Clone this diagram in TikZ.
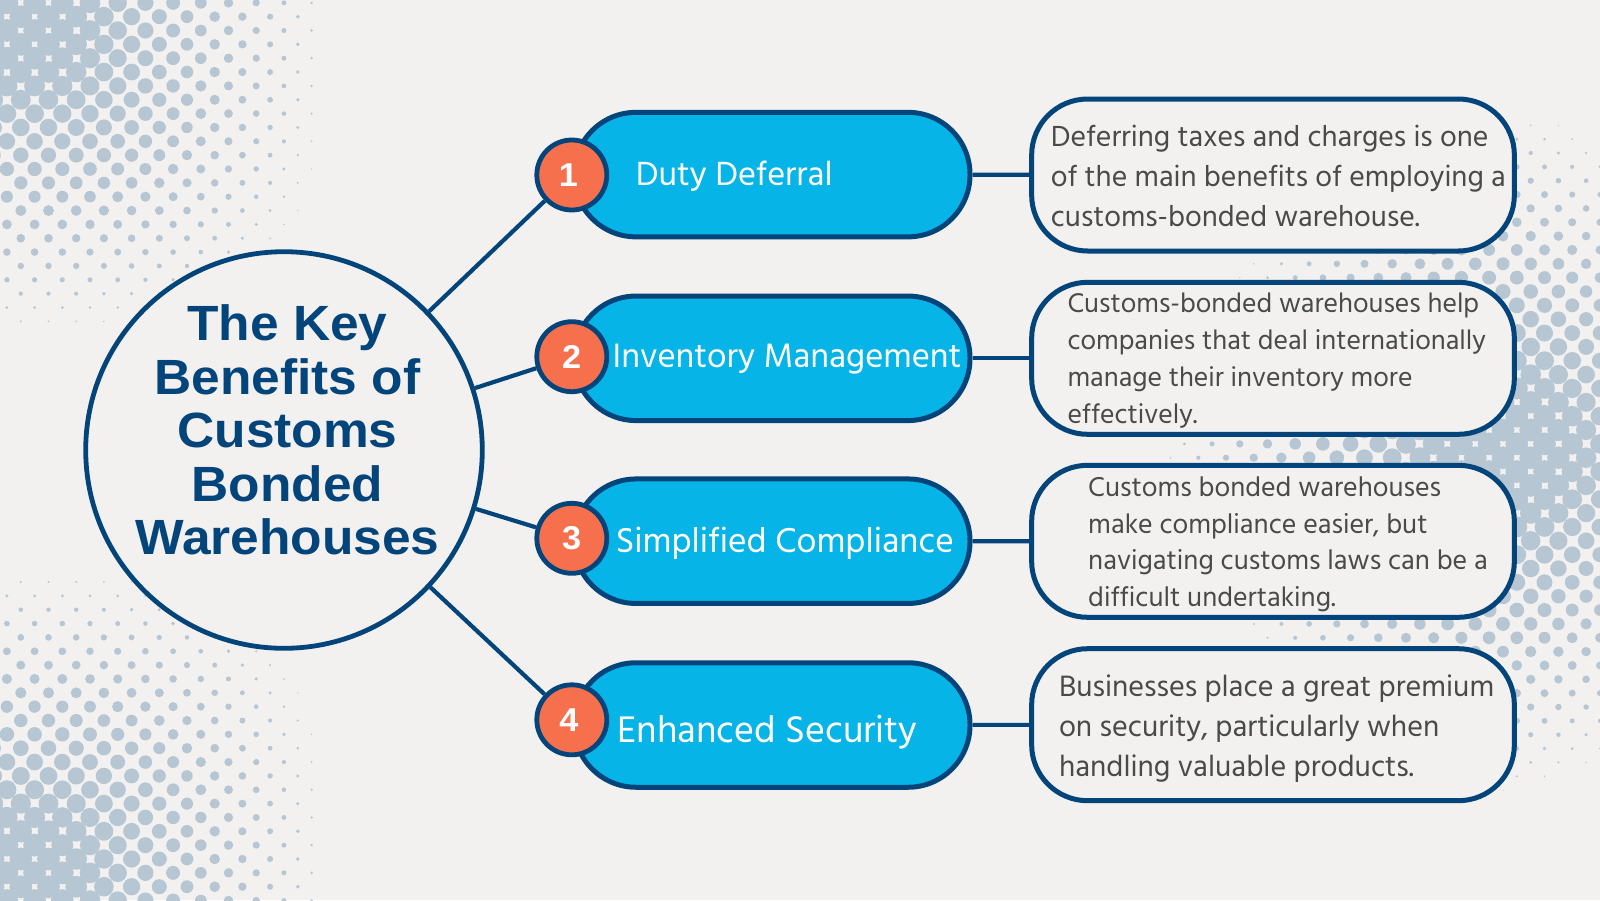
\documentclass[tikz,border=0pt]{standalone}
\usepackage{fontspec}
\setmainfont{Hind Madurai}
\newfontfamily\titlefont[FakeStretch=1.04]{Liberation Sans}
\definecolor{paper}{HTML}{F2F1EF}
\definecolor{navy}{HTML}{03457A}
\definecolor{sky}{HTML}{07B4E8}
\definecolor{coral}{HTML}{F6704E}
\definecolor{halftone}{HTML}{B6C6D3}
\definecolor{ink}{HTML}{4A4A4A}
\tikzset{
  hub/.style={circle,draw=navy,fill=paper,line width=4.8pt,minimum size=396.6pt,inner sep=0pt},
  pill/.style={rectangle,rounded corners=62pt,draw=navy,fill=sky,line width=5pt,minimum width=396pt,minimum height=124.5pt},
  badge/.style={circle,draw=navy,fill=coral,line width=4.8pt,minimum size=70pt,inner sep=0pt},
  descbox/.style={rectangle,rounded corners=56pt,draw=navy,fill=paper,line width=5pt,minimum width=482.7pt,minimum height=152pt},
  link/.style={draw=navy,line width=4.2pt},
  numtext/.style={text=white,font=\titlefont\bfseries\fontsize{33}{33}\selectfont},
  pilltext/.style={anchor=base west,text=white,inner sep=0pt},
  longtext/.style={anchor=base west,text=ink,inner sep=0pt,align=left},
}
\begin{document}
\begin{tikzpicture}[x=1pt,y=-1pt]
\useasboundingbox (0,0) rectangle (1600,900);
\clip (0,0) rectangle (1600,900);
\fill[paper] (0,0) rectangle (1600,900);
% top left dots
\foreach \j in {1,...,26} {
  \foreach \k in {0,...,11} {
    \pgfmathsetmacro\cx{6.9-13.8*mod(\j,2)+27.7*\k}
    \pgfmathsetmacro\cy{2.8+13.85*(\j-2)}
    \pgfmathsetmacro\dotr{min(11.4,14-0.0405*100*((abs(\cx)/100)^3+(abs(\cy)/100)^3)^0.3333)}
    \ifdim\dotr pt>0.45pt \fill[halftone] (\cx,\cy) circle [radius=\dotr pt];\fi
  }
}
% bottom left dots
\foreach \j in {0,...,24} {
  \foreach \k in {0,...,11} {
    \pgfmathsetmacro\cx{-6.9+13.8*mod(\j,2)+27.7*\k}
    \pgfmathsetmacro\cy{582+13.85*\j}
    \pgfmathsetmacro\dotr{min(11.4,14-0.0405*100*((abs(\cx)/100)^3+(abs(900-\cy)/100)^3)^0.3333)}
    \ifdim\dotr pt>0.45pt \fill[halftone] (\cx,\cy) circle [radius=\dotr pt];\fi
  }
}
% right dots
\foreach \j in {0,...,48} {
  \foreach \k in {0,...,17} {
    \pgfmathsetmacro\cx{1142.9+13.8*mod(\j,2)+27.7*\k}
    \pgfmathsetmacro\cy{153+13.85*(\j-2)}
    \pgfmathsetmacro\dotr{min(11.4,13.6-0.038*100*((abs(\cx-1500)/100+0.01)^1.6+(abs(\cy-450)/100+0.01)^1.6)^0.625)}
    \ifdim\dotr pt>0.6pt \fill[halftone] (\cx,\cy) circle [radius=\dotr pt];\fi
  }
}
\node[hub] (hub) at (284,450) {};
\node[pill] (pill1) at (772,174.6) {};
\node[pill] (pill2) at (772,358.3) {};
\node[pill] (pill3) at (772,541.2) {};
\node[pill] (pill4) at (772,725) {};
\node[badge] (badge1) at (571.8,175) {};
\node[badge] (badge2) at (571.8,356.7) {};
\node[badge] (badge3) at (571.8,538.3) {};
\node[badge] (badge4) at (571.8,719.8) {};
\node[numtext] (num1) at (568.5,175) {1};
\node[numtext] (num2) at (571.7,356.7) {2};
\node[numtext] (num3) at (571.7,538.3) {3};
\node[numtext] (num4) at (569,720) {4};
\node[descbox] (desc1) at (1273,175) {};
\node[descbox] (desc2) at (1273,358.3) {};
\node[descbox] (desc3) at (1273,541.3) {};
\node[descbox] (desc4) at (1273,724.7) {};
\draw[link] (hub) -- (badge1);
\draw[link] (hub) -- (badge2);
\draw[link] (hub) -- (badge3);
\draw[link] (hub) -- (badge4);
\draw[link] (pill1) -- (desc1);
\draw[link] (pill2) -- (desc2);
\draw[link] (pill3) -- (desc3);
\draw[link] (pill4) -- (desc4);
\node[text=navy,inner sep=0pt,align=center,anchor=base,font=\titlefont\bfseries\fontsize{49.5}{53.5}\selectfont] (title) at (287.5,554.8)
  {The Key\\Benefits of\\Customs\\Bonded\\Warehouses};
\node[pilltext,font=\fontsize{34.4}{34}\selectfont] (name1) at (635.7,185) {Duty Deferral};
\node[pilltext,font=\fontsize{34.7}{34}\selectfont] (name2) at (612.5,367.7) {Inventory Management};
\node[pilltext,font=\fontsize{35.4}{34}\selectfont] (name3) at (615.7,552) {Simplified Compliance};
\node[pilltext,font=\fontsize{38}{34}\selectfont] (name4) at (617.3,742.2) {Enhanced Security};
\node[longtext,font=\fontsize{29.8}{40}\selectfont] (text1) at (1050.7,226)
  {Deferring taxes and charges is one\\of the main benefits of employing a\\customs-bonded warehouse.};
\node[longtext,font=\fontsize{27.7}{36.8}\selectfont] (text2) at (1067.3,423.3)
  {Customs-bonded warehouses help\\companies that deal internationally\\manage their inventory more\\effectively.};
\node[longtext,font=\fontsize{27.9}{36.8}\selectfont] (text3) at (1088,606.7)
  {Customs bonded warehouses\\make compliance easier, but\\navigating customs laws can be a\\difficult undertaking.};
\node[longtext,font=\fontsize{30.2}{40}\selectfont] (text4) at (1058.8,776)
  {Businesses place a great premium\\on security, particularly when\\handling valuable products.};
\end{tikzpicture}
\end{document}
